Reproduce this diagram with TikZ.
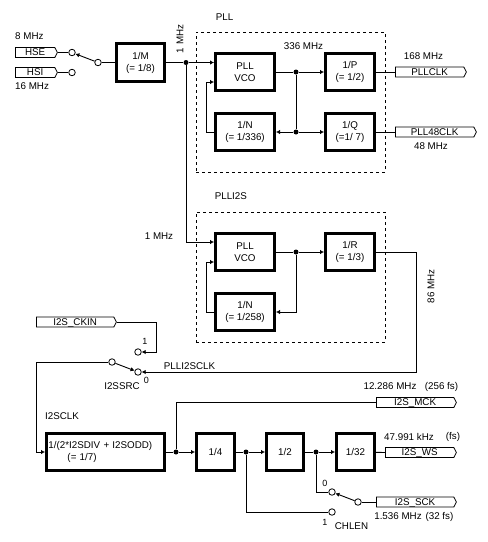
\documentclass[tikz,border=0pt]{standalone}
\usepackage{fontspec}
\setmainfont{Liberation Sans}
\usetikzlibrary{arrows.meta, positioning, shapes.symbols, calc}

\tikzset{
  Blk/.style={draw, line width=2.6pt, align=center, inner sep=0pt, minimum height=37.4pt},
  Sig/.style={draw, line width=0.8pt, shape=signal, signal to=east, signal pointer angle=125, minimum height=10pt, inner sep=0pt, text height=6.9pt, text depth=0pt, anchor=west},
  Term/.style={circle, draw, line width=0.8pt, fill=white, minimum size=6.5pt, inner sep=0pt},
  Dot/.style={circle, fill, minimum size=5pt, inner sep=0pt},
  Frame/.style={draw, dash pattern=on 3pt off 3pt, line width=0.8pt, inner sep=0pt},
  Wire/.style={line width=0.9pt},
  Arr/.style={Wire, -{Latex[length=4pt,width=4.5pt]}},
  Lbl/.style={inner sep=0pt},
  Small/.style={Lbl, font=\fontsize{9}{10}\selectfont}
}

\begin{document}
\begin{tikzpicture}[x=1pt, y=-1pt, font=\fontsize{9.8}{12}\selectfont]
\useasboundingbox (0,0) rectangle (488,542);

% sources and main selector
\node[Sig, minimum width=42pt] (hse) at (15,52.5) {HSE};
\node[Sig, minimum width=42pt] (hsi) at (15,72.5) {HSI};
\node[Lbl, anchor=west] (hsef) at (15,36) {8 MHz};
\node[Lbl, anchor=west] (hsif) at (15,86.5) {16 MHz};
\node[Term] (hseT) at (72,52.5) {};
\node[Term] (hsiT) at (72,72.5) {};
\node[Term] (selC) at (98,62.5) {};
\node[Blk, minimum width=48.4pt, minimum height=38.4pt] (divM) at (140.5,62.5) {1/M\\(= 1/8)};
\node[Dot] (dM) at (186,62.5) {};
\node[Lbl, rotate=90] (mf) at (180,39) {1 MHz};

% PLL
\node[Frame, minimum width=189pt, minimum height=140pt] (pllF) at (290.5,102) {};
\node[Lbl, anchor=base west] (pllN) at ([xshift=20pt, yshift=11pt]pllF.north west) {PLL};
\node[Blk, minimum width=59.4pt] (vco1) at (245,72) {PLL\\VCO};
\node[Blk, minimum width=59.4pt, below=20pt of vco1] (divN1) {1/N\\(= 1/336)};
\node[Blk, minimum width=49.4pt, right=48pt of vco1] (divP) {1/P\\(= 1/2)};
\node[Blk, minimum width=49.4pt, right=48pt of divN1] (divQ) {1/Q\\(=1/ 7)};
\node[Dot] (dP) at (296,72) {};
\node[Dot] (dN) at (dP |- divN1.east) {};
\node[Lbl] (vf1) at (303.5,46) {336 MHz};
\node[Sig, minimum width=71pt] (pllclk) at (395,72) {PLLCLK};
\node[Sig, minimum width=81pt] (pll48) at (395,132) {PLL48CLK};
\node[Lbl] (pf) at (423.5,56.5) {168 MHz};
\node[Lbl] (qf) at (431,146.5) {48 MHz};

% PLLI2S
\node[Frame, minimum width=189pt, minimum height=130pt] (i2sF) at (290.5,277) {};
\node[Lbl, anchor=base west] (i2sN) at ([xshift=19pt, yshift=12pt]i2sF.north west) {PLLI2S};
\node[Blk, minimum width=59.4pt] (vco2) at (245,252) {PLL\\VCO};
\node[Blk, minimum width=59.4pt, below=20pt of vco2] (divN2) {1/N\\(= 1/258)};
\node[Blk, minimum width=49.4pt, right=48pt of vco2] (divR) {1/R\\(= 1/3)};
\node[Dot] (dR) at (296,252) {};
\node[Lbl] (mf2) at (159,236.5) {1 MHz};
\node[Lbl, rotate=90] (rf) at (431,286.5) {86 MHz};
\coordinate (rTurn) at (416,372);

% I2S source selector
\node[Sig, minimum width=80pt] (ckin) at (36,322) {I2S\_CKIN};
\coordinate (ckTurn) at (156,352);
\node[Term] (ckinT) at (138,352) {};
\node[Term] (pllT) at (138,372) {};
\node[Term] (srcC) at (112,362) {};
\coordinate (srcTurn) at (36,362);
\node[Small] (s1) at (145,341) {1};
\node[Small] (s0) at (146.5,380) {0};
\node[Lbl] (srcN) at (122,386.5) {I2SSRC};
\node[Lbl] (pllsN) at (189.5,366.5) {PLLI2SCLK};

% I2S clock chain
\node[Lbl, anchor=west] (clkN) at (45,416.5) {I2SCLK};
\node[Blk, minimum width=118.4pt, text width=114pt, align=left] (i2sdiv) at (105.5,452) {1/(2*I2SDIV + I2SODD)\\\hspace*{19pt}(= 1/7)};
\node[Blk, minimum width=38.4pt, right=29pt of i2sdiv] (div4) {1/4};
\node[Blk, minimum width=37.4pt, right=29pt of div4] (div2) {1/2};
\node[Blk, minimum width=38.4pt, right=30pt of div2] (div32) {1/32};
\node[Dot] (d1) at (176,452) {};
\node[Dot] (d4) at (246,452) {};
\node[Dot] (d2) at (316,452) {};
\node[Sig, minimum width=80pt] (mck) at (376,402.5) {I2S\_MCK};
\node[Sig, minimum width=71pt] (ws) at (385,452.5) {I2S\_WS};
\node[Sig, minimum width=80pt] (sck) at (376,502) {I2S\_SCK};
\node[Term] (chl0) at (332,492) {};
\node[Term] (chl1) at (332,512) {};
\node[Term] (chlC) at (358,502) {};
\node[Lbl] (mckf) at (390,386.5) {12.286 MHz};
\node[Lbl] (mckfs) at (441.5,386.5) {(256 fs)};
\node[Lbl] (wsf) at (409,436.5) {47.991 kHz};
\node[Lbl] (wsfs) at (453,436.5) {(fs)};
\node[Lbl] (sckf) at (398,516.5) {1.536 MHz};
\node[Lbl] (sckfs) at (439.5,516.5) {(32 fs)};
\node[Small] (c0) at (325,483) {0};
\node[Small] (c1) at (325,522) {1};
\node[Lbl] (chlN) at (351.5,526) {CHLEN};

% connections
\draw[Wire] (hse.east) -- (hseT);
\draw[Wire] (hsi.east) -- (hsiT);
\draw[Arr] (selC) -- (hseT);
\draw[Wire] (selC) -- (divM);
\draw[Wire] (divM) -- (dM);
\draw[Arr] (dM) -- (dM -| vco1.west);
\draw[Arr] (dM) |- ([yshift=10pt]vco2.west);
\draw[Arr] (divN1.west) -- ++(-8pt,0) |- ([yshift=-10pt]vco1.west);
\draw[Wire] (vco1) -- (dP);
\draw[Arr] (dP) -- (divP);
\draw[Wire] (dP) -- (dN);
\draw[Arr] (dN) -- (divN1);
\draw[Arr] (dN) -- (divQ);
\draw[Wire] (divP) -- (pllclk.west);
\draw[Wire] (divQ) -- (pll48.west);
\draw[Arr] (divN2.west) -- ++(-8pt,0) |- ([yshift=-10pt]vco2.west);
\draw[Wire] (vco2) -- (dR);
\draw[Arr] (dR) -- (divR);
\draw[Arr] (dR) |- (divN2.east);
\draw[Arr] (divR.east) -| (rTurn) -- (pllT);
\draw[Arr] (ckin.east) -| (ckTurn) -- (ckinT);
\draw[Arr] (srcC) -- (pllT);
\draw[Arr] (srcC) -- (srcTurn) |- (i2sdiv.west);
\draw[Wire] (i2sdiv) -- (d1);
\draw[Arr] (d1) -- (div4);
\draw[Wire] (d1) |- (mck.west);
\draw[Wire] (div4) -- (d4);
\draw[Arr] (d4) -- (div2);
\draw[Wire] (d4) |- (chl1);
\draw[Wire] (div2) -- (d2);
\draw[Arr] (d2) -- (div32);
\draw[Wire] (d2) |- (chl0);
\draw[Wire] (div32) -- (ws.west);
\draw[Arr] (chlC) -- (chl0);
\draw[Wire] (chlC) -- (sck.west);
\end{tikzpicture}
\end{document}
